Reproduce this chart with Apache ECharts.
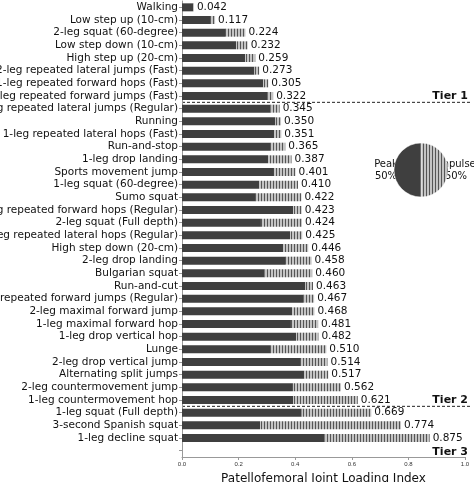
<!DOCTYPE html>
<html>
<head>
<meta charset="utf-8">
<script src="https://cdn.jsdelivr.net/npm/echarts@6/dist/echarts.min.js"></script>
<style>html,body{margin:0;padding:0;background:#fff}#chart{width:474px;height:482px}</style>
</head>
<body>
<div id="chart"></div>
<script>
// categories, top to bottom ('' = spare row under the last bar)
var categories = ['Walking','Low step up (10-cm)','2-leg squat (60-degree)','Low step down (10-cm)','High step up (20-cm)',
  '2-leg repeated lateral jumps (Fast)','1-leg repeated forward hops (Fast)','2-leg repeated forward jumps (Fast)',
  '2-leg repeated lateral jumps (Regular)','Running','1-leg repeated lateral hops (Fast)','Run-and-stop','1-leg drop landing',
  'Sports movement jump','1-leg squat (60-degree)','Sumo squat','1-leg repeated forward hops (Regular)','2-leg squat (Full depth)',
  '1-leg repeated lateral hops (Regular)','High step down (20-cm)','2-leg drop landing','Bulgarian squat','Run-and-cut',
  '2-leg repeated forward jumps (Regular)','2-leg maximal forward jump','1-leg maximal forward hop','1-leg drop vertical hop',
  'Lunge','2-leg drop vertical jump','Alternating split jumps','2-leg countermovement jump','1-leg countermovement hop',
  '1-leg squat (Full depth)','3-second Spanish squat','1-leg decline squat',''];
var totals = [0.042,0.117,0.224,0.232,0.259,0.273,0.305,0.322,0.345,0.350,0.351,0.365,0.387,0.401,0.410,0.422,0.423,0.424,
  0.425,0.446,0.458,0.460,0.463,0.467,0.468,0.481,0.482,0.510,0.514,0.517,0.562,0.621,0.669,0.774,0.875,null];
var peaks = [0.040,0.102,0.152,0.191,0.223,0.256,0.287,0.301,0.313,0.330,0.326,0.314,0.304,0.325,0.273,0.261,0.393,0.279,
  0.382,0.357,0.364,0.291,0.436,0.428,0.389,0.385,0.403,0.311,0.417,0.432,0.392,0.393,0.423,0.276,0.503,null];
var xTicks = [0, 0.2, 0.4, 0.6, 0.8, 1.0];
var tiers = [{after: 7, name: 'Tier 1'}, {after: 31, name: 'Tier 2'}, {after: 34, name: 'Tier 3'}];
var pieShares = [{name: 'Impulse', value: 50}, {name: 'Peak', value: 50}];

var impulses = totals.map(function(t, i){ return t == null ? null : +(t - peaks[i]).toFixed(3); });

// vertical hatch pattern
var pc = document.createElement('canvas');
pc.width = 3; pc.height = 4;
var g = pc.getContext('2d');
g.fillStyle = '#c4c4c4'; g.fillRect(0, 0, 3, 4);
g.fillStyle = '#555'; g.fillRect(0, 0, 1, 4);
var hatch = {image: pc, repeat: 'repeat'};
var dark = '#3f3f3f';
var font = 'DejaVu Sans';

var myChart = echarts.init(document.getElementById('chart'));
var option = {
  animation: false,
  grid: {left: 182, right: 9, top: 1, bottom: 25, containLabel: false, outerBoundsMode: 'none'},
  xAxis: {
    type: 'value', min: 0, max: 1, interval: 0.2,
    name: 'Patellofemoral Joint Loading Index', nameLocation: 'middle', nameGap: 16,
    nameTextStyle: {fontSize: 12, color: '#111', fontFamily: font},
    axisLine: {show: true, lineStyle: {color: '#999'}},
    axisTick: {show: true, length: 3, lineStyle: {color: '#999'}},
    axisLabel: {fontSize: 6, color: '#333', margin: 4,
      formatter: function(v){ return xTicks.indexOf(v) >= 0 ? v.toFixed(1) : ''; }},
    splitLine: {show: false}
  },
  yAxis: {
    type: 'category', data: categories, inverse: true,
    axisLine: {show: true, lineStyle: {color: '#999'}},
    axisTick: {show: true, length: 3, alignWithLabel: true, lineStyle: {color: '#999'}},
    axisLabel: {fontSize: 10.5, color: '#111', margin: 4, fontFamily: font, interval: 0}
  },
  series: [
    {type: 'bar', stack: 'a', data: peaks, barWidth: 8, itemStyle: {color: dark}},
    {type: 'bar', stack: 'a', data: impulses, barWidth: 8, itemStyle: {color: hatch},
      label: {show: true, position: 'right', distance: 3, fontSize: 10.5, color: '#111', fontFamily: font,
        formatter: function(p){ return totals[p.dataIndex] == null ? '' : totals[p.dataIndex].toFixed(3); }}},
    {type: 'pie', center: [421, 170], radius: 27, startAngle: 90, clockwise: true,
      data: pieShares.map(function(d){
        return {name: d.name, value: d.value, itemStyle: {color: d.name === 'Peak' ? dark : hatch}};
      }),
      itemStyle: {borderColor: '#fff', borderWidth: 0.5},
      label: {show: false}, labelLine: {show: false}}
  ]
};
myChart.setOption(option);

var graphics = [];
// pie labels
pieShares.forEach(function(d){
  var left = d.name === 'Peak';
  graphics.push({type: 'text', x: left ? 386 : 456, y: 170,
    style: {text: d.name + '\n' + d.value + '%', fontSize: 10, lineHeight: 12, fill: '#111', fontFamily: font,
      align: 'center', verticalAlign: 'middle'}});
});
// tier separators
var x0 = myChart.convertToPixel({xAxisIndex: 0}, 0);
tiers.forEach(function(t){
  var y = (myChart.convertToPixel({yAxisIndex: 0}, categories[t.after]) +
           myChart.convertToPixel({yAxisIndex: 0}, categories[t.after + 1])) / 2;
  if (t.name !== 'Tier 3') {
    graphics.push({type: 'line', shape: {x1: x0, y1: y, x2: 471, y2: y},
      style: {stroke: '#222', lineWidth: 1, lineDash: [3, 2]}});
  }
  graphics.push({type: 'text', x: 468, y: t.name === 'Tier 3' ? y + 2 : y - 1,
    style: {text: t.name, fontSize: 11, fontWeight: 'bold', fill: '#111', align: 'right',
      verticalAlign: t.name === 'Tier 3' ? 'top' : 'bottom', fontFamily: font}});
});
myChart.setOption({graphic: graphics});
</script>
</body>
</html>
